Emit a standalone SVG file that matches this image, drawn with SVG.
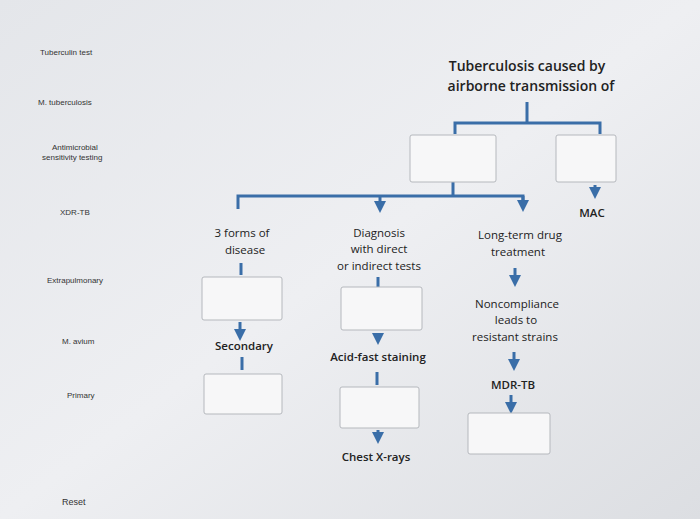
<svg xmlns="http://www.w3.org/2000/svg" width="700" height="519" viewBox="0 0 700 519">
<defs>
<linearGradient id="bg" x1="0" y1="0" x2="1" y2="1"><stop offset="0" stop-color="#e4e6ea"/><stop offset="0.5" stop-color="#eeeff2"/><stop offset="1" stop-color="#dcdee2"/></linearGradient>
<marker id="ah" markerWidth="4" markerHeight="4" refX="2" refY="2" orient="auto" markerUnits="strokeWidth"><path d="M0,0 L4,2 L0,4 z" fill="#3a6ea8"/></marker>
<style>
.side{font-family:"Liberation Sans",Arial,sans-serif;font-size:8px;fill:#333}
.lbl{font-family:"Open Sans","Liberation Sans",sans-serif;font-size:11.5px;fill:#222;text-anchor:middle}
.ttl{font-family:"Open Sans","Liberation Sans",sans-serif;font-size:14px;fill:#222;text-anchor:middle;font-weight:600}
.box{fill:#f7f7f8;stroke:#b5b8bd;stroke-width:1;rx:2}
.ln{stroke:#3a6ea8;stroke-width:3;fill:none}
.ar{stroke:#3a6ea8;stroke-width:3;fill:none;marker-end:url(#ah)}
</style>
</defs>
<rect width="700" height="519" fill="url(#bg)"/>
<g id="sidebar">
<text class="side" x="40" y="55">Tuberculin test</text>
<text class="side" x="38" y="105">M. tuberculosis</text>
<text class="side" x="52" y="150">Antimicrobial</text>
<text class="side" x="42" y="160">sensitivity testing</text>
<text class="side" x="60" y="215">XDR-TB</text>
<text class="side" x="47" y="283">Extrapulmonary</text>
<text class="side" x="62" y="344">M. avium</text>
<text class="side" x="67" y="398">Primary</text>
<text class="side" x="62" y="505" style="font-size:9px">Reset</text>
</g>
<g id="connectors">
<path class="ln" d="M527,102 V123 M455,134 V123 H600 V134"/>
<path class="ar" d="M595,185 V193"/>
<path class="ln" d="M453,182 V196 M238,209 V196 H523 V207"/>
<path class="ar" d="M380,196 V207"/>
<path class="ar" d="M523,196 V206"/>
<path class="ln" d="M241,263 V275"/>
<path class="ar" d="M240,322 V335"/>
<path class="ln" d="M242,357 V370"/>
<path class="ln" d="M378,277 V287"/>
<path class="ar" d="M378,333 V339"/>
<path class="ln" d="M377,372 V385"/>
<path class="ar" d="M378,430 V438"/>
<path class="ar" d="M515,268 V281"/>
<path class="ar" d="M514,352 V365"/>
<path class="ar" d="M511,395 V408"/>
</g>
<g id="title"><text class="ttl" x="527" y="71">Tuberculosis caused by</text><text class="ttl" x="531" y="91">airborne transmission of</text></g>
<g id="box1"><rect class="box" x="410" y="135" width="86" height="47"/></g>
<g id="box2"><rect class="box" x="556" y="135" width="60" height="47"/></g>
<g id="mac"><text class="lbl" x="592" y="217" style="font-weight:600">MAC</text></g>
<g id="forms"><text class="lbl" x="242" y="237">3 forms of</text><text class="lbl" x="245" y="254">disease</text></g>
<g id="box3"><rect class="box" x="202" y="277" width="80" height="43"/></g>
<g id="secondary"><text class="lbl" x="244" y="350" style="font-weight:600">Secondary</text></g>
<g id="box4"><rect class="box" x="204" y="374" width="78" height="40"/></g>
<g id="diagnosis"><text class="lbl" x="379" y="237">Diagnosis</text><text class="lbl" x="379" y="253">with direct</text><text class="lbl" x="379" y="270">or indirect tests</text></g>
<g id="box5"><rect class="box" x="341" y="287" width="81" height="43"/></g>
<g id="acidfast"><text class="lbl" x="378" y="361" style="font-weight:600">Acid-fast staining</text></g>
<g id="box6"><rect class="box" x="340" y="387" width="79" height="41"/></g>
<g id="xrays"><text class="lbl" x="376" y="461" style="font-weight:600">Chest X-rays</text></g>
<g id="longterm"><text class="lbl" x="520" y="239">Long-term drug</text><text class="lbl" x="518" y="256">treatment</text></g>
<g id="noncomp"><text class="lbl" x="517" y="308">Noncompliance</text><text class="lbl" x="516" y="324">leads to</text><text class="lbl" x="515" y="341">resistant strains</text></g>
<g id="mdr"><text class="lbl" x="513" y="389" style="font-weight:600">MDR-TB</text></g>
<g id="box7"><rect class="box" x="468" y="413" width="82" height="41"/></g>
</svg>
